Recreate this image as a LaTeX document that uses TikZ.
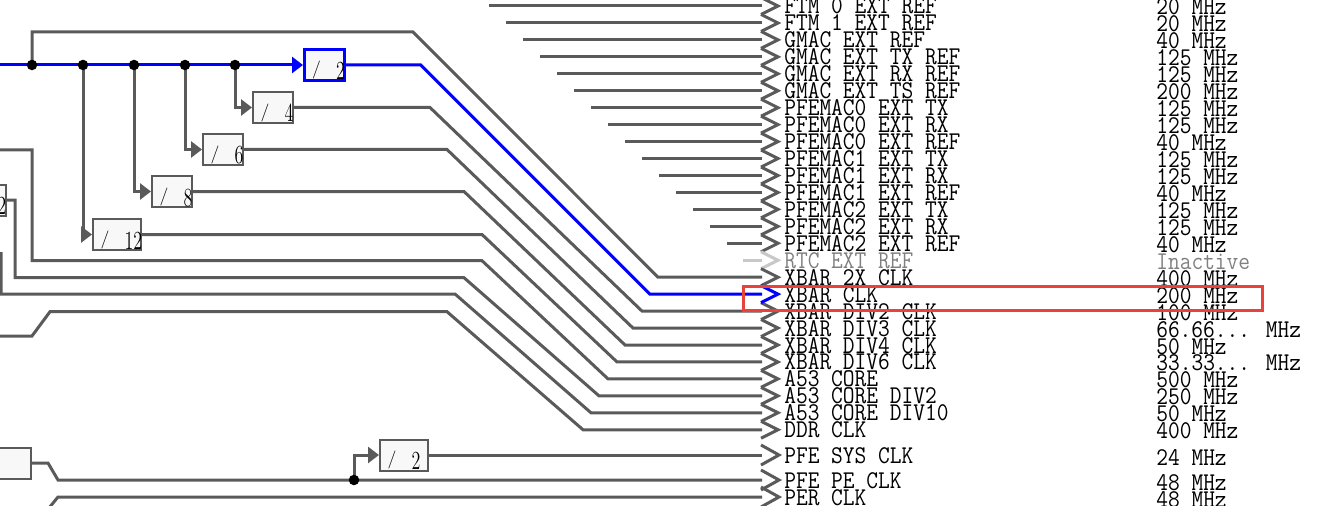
\documentclass[tikz,border=0pt]{standalone}
\usepackage{graphicx}
\usepackage{tikz}
\usetikzlibrary{arrows.meta}

\definecolor{wiregray}{RGB}{90,90,90}
\definecolor{boxfill}{RGB}{248,248,248}
\definecolor{offwire}{RGB}{200,200,200}
\definecolor{offtext}{RGB}{128,128,128}
\definecolor{hired}{RGB}{232,66,60}

\newlength{\unitpx}\setlength{\unitpx}{0.75pt}
\newcommand{\pinfont}{\fontsize{17.1pt}{18pt}\selectfont\ttfamily}
\newcommand{\divfont}{\fontsize{13.5pt}{14pt}\selectfont}
\newcommand{\divby}[2][40]{\makebox[#1\unitpx][l]{\hspace{7.5\unitpx}\makebox[24\unitpx][l]{\raisebox{3.4pt}{/}}\scalebox{1}[1.45]{#2}}}
\newcommand{\tallt}[1]{\scalebox{1}[1.12]{#1}}
\newcommand{\tdots}{...}

\begin{document}
\begin{tikzpicture}[x=0.75pt,y=-0.75pt]
	\tikzset{wire/.style={draw=wiregray,line width=2.25pt},
		bluewire/.style={draw=blue,line width=2.25pt},
		feed/.style={-{Triangle[length=8.25pt,width=12pt]}},
		divbox/.style={draw=wiregray,fill=boxfill,line width=1.5pt,inner xsep=0pt,
			inner ysep=0.75pt,text height=21.75pt,text depth=0pt,font=\divfont},
		junction/.style={circle,fill=black,inner sep=0pt,minimum size=7.9pt},
		pinlbl/.style={anchor=base west,inner sep=0pt,font=\pinfont},
		chev/.style={wire,line join=miter}}

\clip (0,0) rectangle (1330,506);

% output pins, upper group
\foreach \lbl/\frq [count=\i from 0] in {FTM 0 EXT REF/20 MHz,FTM 1 EXT REF/20 MHz,
	GMAC EXT REF/40 MHz,GMAC EXT TX REF/125 MHz,GMAC EXT RX REF/125 MHz,
	GMAC EXT TS REF/200 MHz,PFEMAC0 EXT TX/125 MHz,PFEMAC0 EXT RX/125 MHz,
	PFEMAC0 EXT REF/40 MHz,PFEMAC1 EXT TX/125 MHz,PFEMAC1 EXT RX/125 MHz,
	PFEMAC1 EXT REF/40 MHz,PFEMAC2 EXT TX/125 MHz,PFEMAC2 EXT RX/125 MHz,
	PFEMAC2 EXT REF/40 MHz}{
	\pgfmathsetmacro{\ry}{6+16.95*\i}
	\coordinate (pin\i) at (762,\ry);
	\coordinate (stub\i) at (489+17*\i,\ry);
	\draw[wire] (stub\i) -- (pin\i);
	\draw[chev] (pin\i) ++(-1,-8.5) -- ++(17,8.5) -- ++(-17,8.5);
	\node[pinlbl] (lbl\i) at (784,\ry+8) {\tallt{\lbl}};
	\node[pinlbl] (frq\i) at (1156,\ry+9) {\tallt{\frq}};
}

% inactive pin
\pgfmathsetmacro{\ry}{6+16.95*15}
\coordinate (pin15) at (762,\ry);
\coordinate (stub15) at (743,\ry);
\draw[wire,draw=offwire] (stub15) -- (pin15);
\draw[chev,draw=offwire] (pin15) ++(-1,-8.5) -- ++(17,8.5) -- ++(-17,8.5);
\node[pinlbl,text=offtext] (lbl15) at (784,\ry+8) {\tallt{RTC EXT REF}};
\node[pinlbl,text=offtext] (frq15) at (1156,\ry+9) {\tallt{Inactive}};

% output pins fed from the dividers
\foreach \lbl/\frq [count=\i from 16] in {XBAR 2X CLK/400 MHz,XBAR CLK/200 MHz,
	XBAR DIV2 CLK/100 MHz,XBAR DIV3 CLK/66.66\tdots{} MHz,XBAR DIV4 CLK/50 MHz,
	XBAR DIV6 CLK/33.33\tdots{} MHz,A53 CORE/500 MHz,A53 CORE DIV2/250 MHz,
	A53 CORE DIV10/50 MHz,DDR CLK/400 MHz}{
	\pgfmathsetmacro{\ry}{6+16.95*\i}
	\coordinate (pin\i) at (762,\ry);
	\node[pinlbl] (lbl\i) at (784,\ry+8) {\tallt{\lbl}};
	\node[pinlbl] (frq\i) at (1156,\ry+9) {\tallt{\frq}};
}
\foreach \i in {16,18,19,20,21,22,23,24,25}
	\draw[chev] (pin\i) ++(-1,-8.5) -- ++(17,8.5) -- ++(-17,8.5);
\draw[chev,draw=blue] (pin17) ++(-1,-8.5) -- ++(17,8.5) -- ++(-17,8.5);

% lower pins
\coordinate (pinsys) at (762,455);
\coordinate (pinpe) at (762,480);
\coordinate (pinper) at (762,497);
\foreach \p/\lbl/\frq in {pinsys/PFE SYS CLK/24 MHz,pinpe/PFE PE CLK/48 MHz,pinper/PER CLK/48 MHz}{
	\draw[chev] (\p) ++(-1,-10) -- ++(18,10) -- ++(-18,10);
	\node[pinlbl] at ([xshift=22*0.75pt,yshift=-8*0.75pt]\p) {\tallt{\lbl}};
	\node[pinlbl] at ([xshift=394*0.75pt,yshift=-10*0.75pt]\p) {\tallt{\frq}};
}

% dividers
\node[divbox,draw=blue,line width=2.25pt,anchor=west] (d2) at (303,65) {\divby{2}};
\node[divbox,anchor=west] (d4) at (252,107.5) {\divby{4}};
\node[divbox,anchor=west] (d6) at (202,149.5) {\divby{6}};
\node[divbox,anchor=west] (d8) at (151,191.5) {\divby{8}};
\node[divbox,anchor=west] (d12) at (92,234.5) {\divby[48]{12}};
\node[divbox,anchor=east] (dl) at (7,200) {\divby{2}};
\node[divbox,anchor=east] (bl) at (32,463) {\makebox[60\unitpx]{}};
\node[divbox,anchor=west] (db) at (379,455) {\divby[48]{2}};

% junctions and free ends
\coordinate (j0) at (32,65);
\coordinate (j1) at (83,65);
\coordinate (j2) at (134,65);
\coordinate (j3) at (185,65);
\coordinate (j4) at (235,65);
\coordinate (j5) at (354,480);
\coordinate (xin) at (0,65);
\coordinate (in1) at (0,150);
\coordinate (in2) at (1,252);
\coordinate (in3) at (0,336);
\coordinate (in4) at (49,508);

% main clock line
\draw[bluewire,feed] (xin) -- (d2.west);
\draw[bluewire] (d2.east) -- (420.7,65) -- (650,0 |- pin17) -- (pin17);
\draw[wire] (j0) |- (413,32) -- (658,0 |- pin16) -- (pin16);

\draw[wire,feed] (j4) |- (d4.west);
\draw[wire,feed] (j3) |- (d6.west);
\draw[wire,feed] (j2) |- (d8.west);
\draw[wire,feed] (j1) |- (d12.west);

\draw[wire] (d4.east) -- (430,107.5) -- (642,0 |- pin18) -- (pin18);
\draw[wire] (d6.east) -- (447,149.5) -- (633,0 |- pin19) -- (pin19);
\draw[wire] (d8.east) -- (464,191.5) -- (625,0 |- pin20) -- (pin20);
\draw[wire] (d12.east) -- (482,234.5) -- (617,0 |- pin21) -- (pin21);

\draw[wire] (in1) -- (32,150) -- (32,260.7) -- (482,260.7) -- (608,0 |- pin22) -- (pin22);
\draw[wire] (dl.east) -- (15,200) -- (15,277.7) -- (464,277.7) -- (599,0 |- pin23) -- (pin23);
\draw[wire] (in2) -- (1,294) -- (455,294) -- (591,0 |- pin24) -- (pin24);
\draw[wire] (in3) -- (32,336) -- (50,311.7) -- (447,311.7) -- (583,0 |- pin25) -- (pin25);

% lower group
\draw[wire] (bl.east) -- (48,463) -- (58,480) -- (pinpe);
\draw[wire,feed] (j5) |- (db.west);
\draw[wire] (db.east) -- (pinsys);
\draw[wire] (in4) -- (58,497) -- (pinper);

\foreach \j in {j0,j1,j2,j3,j4,j5}
	\node[junction] at (\j) {};

% selected row
\draw[draw=hired,line width=2.25pt] (743,286) rectangle (1262,310);
\end{tikzpicture}
\end{document}
